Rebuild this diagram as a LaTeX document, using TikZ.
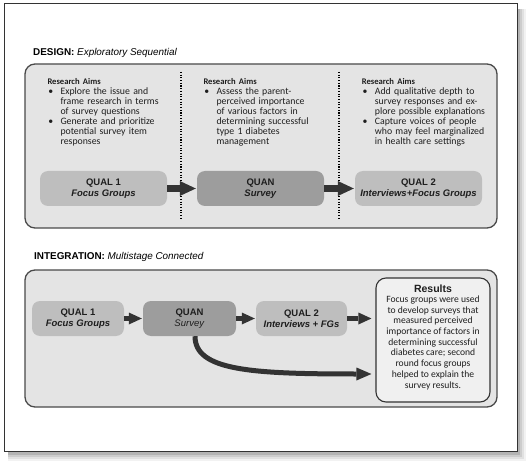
\documentclass[tikz,border=0pt]{standalone}
\usepackage{fontspec}
\setmainfont{Carlito}
\newfontfamily\headfont{Liberation Sans}
\usetikzlibrary{arrows.meta,calc}
\definecolor{panel}{HTML}{E4E4E4}
\definecolor{qualc}{HTML}{BEBEBE}
\definecolor{quanc}{HTML}{9D9D9D}
\definecolor{edgec}{HTML}{4A4A4A}
\definecolor{arrowc}{HTML}{333333}
\definecolor{resfill}{HTML}{F0F0F0}
\definecolor{inkc}{HTML}{1E1E1E}
\newenvironment{aimlist}{\begin{list}{\textbullet}{\setlength\leftmargin{13pt}\setlength\labelwidth{5pt}%
  \setlength\labelsep{7.3pt}\setlength\topsep{0pt}\setlength\partopsep{0pt}\setlength\itemsep{0pt}%
  \setlength\parsep{0pt}\setlength\listparindent{0pt}\setlength\itemindent{0pt}}}{\end{list}}
\newcommand{\aimhead}{{\fontsize{8.6}{10}\selectfont\bfseries\strut Research Aims}\par}
\begin{document}
\begin{tikzpicture}[x=1pt,y=-1pt,
  panelbox/.style={draw=edgec,line width=1.3pt,fill=panel,rounded corners=10pt,inner sep=0pt},
  method/.style={rounded corners=8pt,minimum height=35pt,align=center,inner sep=0pt,text=inkc,
    font=\headfont\fontsize{9.5}{11}\selectfont\bfseries},
  qualbox/.style={method,fill=qualc},
  quanbox/.style={method,fill=quanc},
  titletext/.style={anchor=base west,inner sep=0pt,text=black,font=\headfont\fontsize{9.9}{12}\selectfont},
  aims/.style={anchor=north west,inner sep=0pt,text width=140pt,align=left,text=inkc,
    font=\fontsize{9.8}{10}\selectfont},
  divider/.style={line width=1.2pt,dash pattern=on 1.1pt off 1.6pt,draw=black},
  fatarrow/.style={draw=arrowc,line width=7pt,-{Triangle[length=16pt,width=15pt,line width=0pt]}},
  midarrow/.style={draw=arrowc,line width=5pt,-{Triangle[length=13pt,width=12pt,line width=0pt]}},
  curvearrow/.style={draw=arrowc,line width=5pt,-{Triangle[length=15pt,width=13pt,line width=0pt]}}
]
\useasboundingbox (0,0) rectangle (527,470);
% shadow
\fill[black,opacity=0.05] (8,9) rectangle (526,461);
\fill[black,opacity=0.07] (8,9) rectangle (524,459);
\fill[black,opacity=0.09] (8,9) rectangle (522,457);
\fill[black,opacity=0.12] (8,9) rectangle (520,455);
\node[draw=arrowc,line width=1pt,fill=white,minimum width=513pt,minimum height=447pt,inner sep=0pt] (frame) at (260.5,227.5) {};

% DESIGN
\node[titletext] (dtitle) at (33,56) {\textbf{DESIGN:} \textit{Exploratory Sequential}};
\node[panelbox,minimum width=472pt,minimum height=164pt] (design) at (261,146) {};
\coordinate (d1a) at (181,72); \coordinate (d1b) at (181,218);
\coordinate (d2a) at (339,72); \coordinate (d2b) at (339,218);
\draw[divider] (d1a) -- (d1b);
\draw[divider] (d2a) -- (d2b);

\node[aims] (aim1) at (47.3,77.3) {\aimhead
\begin{aimlist}
\item Explore the issue and\\frame research in terms\\of survey questions
\item Generate and prioritize\\potential survey item\\responses
\end{aimlist}};
\node[aims] (aim2) at (203.3,77.3) {\aimhead
\begin{aimlist}
\item Assess the parent-\\perceived importance\\of various factors in\\determining successful\\type 1 diabetes\\management
\end{aimlist}};
\node[aims] (aim3) at (361.7,77.3) {\aimhead
\begin{aimlist}
\item Add qualitative depth to\\survey responses and ex-\\plore possible explanations
\item Capture voices of people\\who may feel marginalized\\in health care settings
\end{aimlist}};

\node[qualbox,minimum width=127pt] (dq1) at (103.5,188.5) {QUAL 1\\\textit{Focus Groups}};
\node[quanbox,minimum width=127pt] (dqn) at (260.5,188.5) {QUAN\\\textit{Survey}};
\node[qualbox,minimum width=127pt] (dq2) at (418.5,188.5) {QUAL 2\\\textit{Interviews+Focus Groups}};
\draw[fatarrow,shorten >=1pt] (dq1.east) -- (dqn.west);
\draw[fatarrow,shorten >=1pt] (dqn.east) -- (dq2.west);

% INTEGRATION
\node[titletext] (ititle) at (34,259) {\textbf{INTEGRATION:} \textit{Multistage Connected}};
\node[panelbox,minimum width=472pt,minimum height=137pt] (integ) at (261,338.5) {};
\node[qualbox,minimum width=92pt] (iq1) at (78,318.5) {QUAL 1\\\textit{Focus Groups}};
\node[quanbox,minimum width=93pt] (iqn) at (189.5,318.5) {QUAN\\\textit{\mdseries Survey}};
\node[qualbox,minimum width=91pt] (iq2) at (301.5,318.5) {QUAL 2\\\textit{Interviews + FGs}};
\node[draw=arrowc,line width=1.1pt,fill=resfill,rounded corners=10pt,minimum width=114pt,minimum height=124pt,inner sep=0pt] (results) at (433,340) {};
\node[anchor=north,inner sep=0pt,align=center,text=inkc,font=\fontsize{9.6}{10.7}\selectfont] (restext) at (433,284.5)
 {{\headfont\fontsize{10.5}{12}\selectfont\bfseries Results}\\[-0.6pt]
 Focus groups were used\\to develop surveys that\\measured perceived\\importance of factors in\\determining successful\\diabetes care; second\\round focus groups\\helped to explain the\\survey results.};
\draw[midarrow,shorten >=1pt] (iq1.east) -- (iqn.west);
\draw[midarrow,shorten >=1pt] (iqn.east) -- (iq2.west);
\draw[midarrow] (iq2.east) -- ($(iq2.east -| results.west)+(-4,0)$);
\coordinate (cstart) at ($(iqn.south)+(5.5,0)$);
\coordinate (cend) at ($(results.west)+(-4,34)$);
\draw[curvearrow] (cstart) .. controls ($(cstart)+(0,34)$) and ($(cend)+(-122,0)$) .. (cend);
\end{tikzpicture}
\end{document}
